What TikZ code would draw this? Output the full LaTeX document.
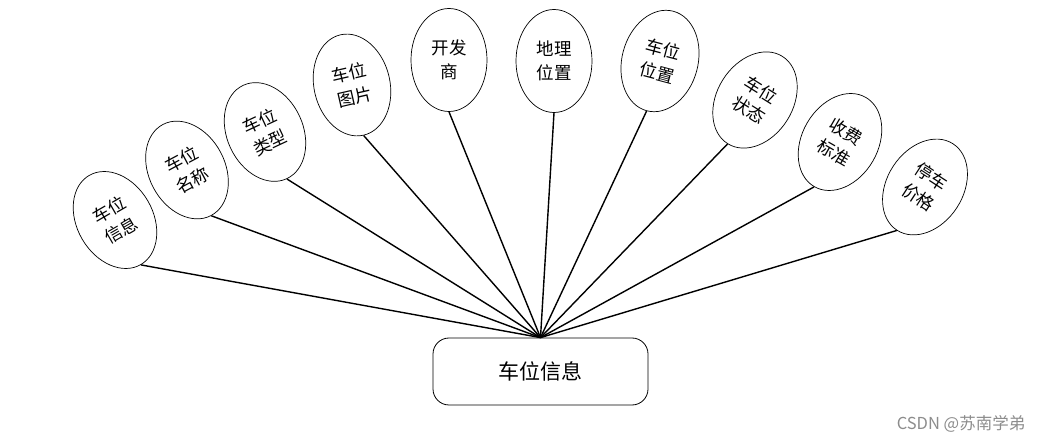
\documentclass[tikz,border=0pt]{standalone}
\usepackage{fontspec}
\newfontfamily\cjk{Noto Sans CJK SC}
\usetikzlibrary{shapes.geometric}
\begin{document}
\begin{tikzpicture}[x=1pt,y=1pt,
  attr/.style={ellipse,draw,line width=0.7pt,minimum width=76pt,minimum height=103pt,inner sep=0pt,align=center,font=\cjk\fontsize{17.5}{24}\selectfont},
  ent/.style={draw,line width=0.8pt,rounded corners=16pt,minimum width=215pt,minimum height=67pt,inner sep=0pt,font=\cjk\fontsize{21}{25}\selectfont},
  link/.style={line width=1.4pt}]
\useasboundingbox (0,0) rectangle (1045,442);
\node[ent] (c) at (540.5,70.5) {车位信息};
\node[attr,rotate=30] (e1) at (115,222) {车位\\信息};
\node[attr,rotate=28] (e2) at (187,272) {车位\\名称};
\node[attr,rotate=25] (e3) at (265,310) {车位\\类型};
\node[attr,rotate=13] (e4) at (352,357) {车位\\图片};
\node[attr] (e5) at (449,382) {开发\\商};
\node[attr] (e6) at (554,381) {地理\\位置};
\node[attr,rotate=-15] (e7) at (660,381) {车位\\位置};
\node[attr,rotate=-32] (e8) at (755,342) {车位\\状态};
\node[attr,rotate=-30] (e9) at (840,300) {收费\\标准};
\node[attr,rotate=-33] (e10) at (925,255) {停车\\价格};
\foreach \i in {1,...,10} \draw[link] (e\i.south) -- (c.north);
\node[font=\cjk\fontsize{16.5}{18}\selectfont,text=black!45] (wm) at (961,18) {CSDN @苏南学弟};
\end{tikzpicture}
\end{document}
